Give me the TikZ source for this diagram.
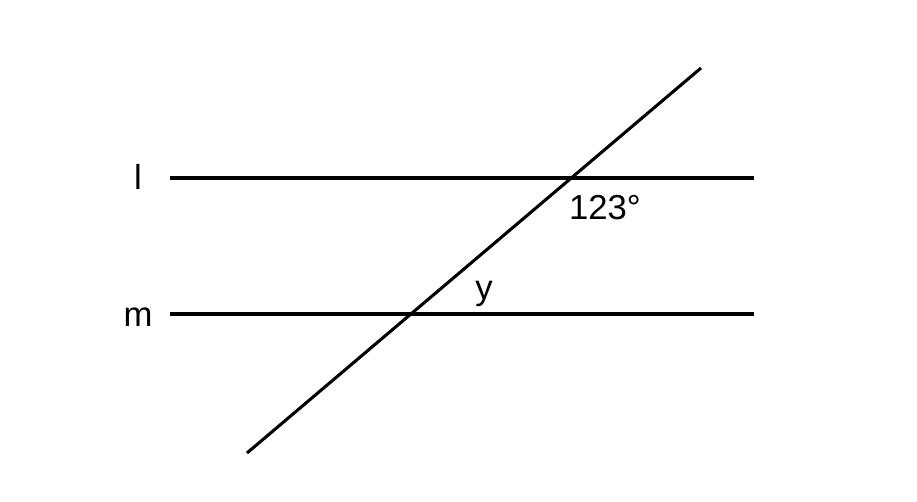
\documentclass[tikz,border=0pt]{standalone}
\usepackage{fontspec}
\setmainfont{Liberation Sans}
\tikzset{lbl/.style={anchor=base,inner sep=0.75pt,font=\fontsize{26}{31}\selectfont}}

\begin{document}
\begin{tikzpicture}[x=0.75pt,y=0.75pt,yscale=-1,xscale=1,line width=2.3pt]
\useasboundingbox (0,0) rectangle (917,502);

%Line l
\coordinate (lA) at (170,178);
\coordinate (lB) at (754,178);
%Line m
\coordinate (mA) at (170,314);
\coordinate (mB) at (754,314);
%Transversal
\coordinate (tA) at (247,453);
\coordinate (tB) at (701,68);

\draw (lA) -- (lB);
\draw (mA) -- (mB);
\draw (tA) -- (tB);

% Text Node
\node [lbl] (labl) at (138,190) {l};
% Text Node
\node [lbl] (labm) at (138,326) {m};
% Text Node
\node [lbl] (ang) at (605,220) {123°};
% Text Node
\node [lbl] (angy) at (484,300) {y};

\end{tikzpicture}
\end{document}
